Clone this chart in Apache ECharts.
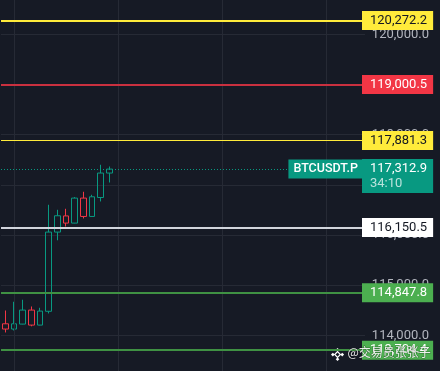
<!DOCTYPE html>
<html><head><meta charset="utf-8">
<script src="https://cdn.jsdelivr.net/npm/echarts@6/dist/echarts.min.js"></script>
<style>html,body{margin:0;padding:0;background:#161a25;}#c{width:440px;height:371px;}</style>
</head><body><div id="c"></div>
<script>
// ---- data ----
const slotCount = 42;
const categories = Array.from({length: slotCount}, (_, i) => String(i + 1));
const opens  = [114230, 114125, 114224, 114503, 114204, 114479, 116058, 116380, 116237, 116735, 116369, 116747, 117234];
const closes = [114125, 114230, 114503, 114204, 114483, 116058, 116383, 116237, 116735, 116369, 116761, 117234, 117312.9];
const lows   = [114057, 114097, 114220, 114180, 114200, 114436, 115894, 116169, 116233, 116329, 116365, 116668, 117046];
const highs  = [114495, 114669, 114709, 114575, 114549, 116602, 116502, 116522, 116755, 116861, 116801, 117399, 117365];
const levelPrices = [120272.2, 119000.5, 117881.3, 116150.5, 114847.8, 113704.4];
const levelLabels = ['120,272.2', '119,000.5', '117,881.3', '116,150.5', '114,847.8', '113,704.4'];
const vGridSlots = ['2', '14', '26', '38'];
const symbolName = 'BTCUSDT.P';
const lastPrice = 117312.9;
const lastPriceLabel = '117,312.9';
const countdown = '34:10';
const watermark = '@交易员张张子';
const yMin = 113000, yMax = 121000, yStep = 1000;

// ---- styles ----
const BG = '#161a25', UP = '#089981', DOWN = '#f23645', GRID = '#262a35';
const FONT = 'Roboto';
const levelStyles = [
  {line: '#ffeb3b', width: 2, box: '#ffeb3b', text: '#131722'},
  {line: '#c9303f', width: 2, box: '#f23645', text: '#ffffff'},
  {line: '#ffeb3b', width: 1, box: '#ffeb3b', text: '#131722'},
  {line: '#d1d4dc', width: 2, box: '#ffffff', text: '#131722'},
  {line: '#3f9143', width: 2, box: '#4caf50', text: '#ffffff'},
  {line: '#3f9143', width: 2, box: '#4caf50', text: '#ffffff'}
];

const ohlc = opens.map((o, i) => [o, closes[i], lows[i], highs[i]]);

const levelLines = levelPrices.map((p, i) => ({
  yAxis: p,
  lineStyle: {color: levelStyles[i].line, width: levelStyles[i].width, type: 'solid', opacity: 1},
  label: {
    show: true, position: 'end', distance: -3, formatter: levelLabels[i],
    backgroundColor: levelStyles[i].box, color: levelStyles[i].text,
    fontFamily: FONT, fontSize: 13, lineHeight: 15, padding: [2, 6, 2, 8]
  }
}));

const priceLines = [
  {
    yAxis: lastPrice,
    lineStyle: {color: UP, width: 1, type: [1, 2], opacity: 1},
    label: {
      show: true, position: 'insideEnd', distance: 3, formatter: symbolName,
      backgroundColor: UP, color: '#ffffff', fontFamily: FONT, fontSize: 12.5, fontWeight: 500,
      lineHeight: 15, padding: [2, 4, 2, 5]
    }
  },
  {
    yAxis: lastPrice,
    lineStyle: {color: 'rgba(0,0,0,0)', width: 1, type: 'solid', opacity: 1},
    label: {
      show: true, position: 'end', distance: -3, offset: [0, 7],
      formatter: '{p|' + lastPriceLabel + '}\n{t|' + countdown + '}',
      backgroundColor: UP, padding: [2, 6, 2, 8],
      rich: {
        p: {color: '#ffffff', fontFamily: FONT, fontSize: 13, lineHeight: 15},
        t: {color: 'rgba(255,255,255,0.72)', fontFamily: FONT, fontSize: 13, lineHeight: 15}
      }
    }
  }
];

const chart = echarts.init(document.getElementById('c'), null, {renderer: 'canvas'});
chart.setOption({
  backgroundColor: BG,
  animation: false,
  grid: {left: 1, top: -15.9, width: 364, height: 401.4, containLabel: false, outerBoundsMode: 'none'},
  xAxis: {
    type: 'category', data: categories, boundaryGap: true,
    axisLine: {show: false}, axisTick: {show: false}, axisLabel: {show: false}, splitLine: {show: false}
  },
  yAxis: {
    type: 'value', position: 'right', min: yMin, max: yMax, interval: yStep, scale: true,
    axisLine: {show: false}, axisTick: {show: false},
    splitLine: {show: true, lineStyle: {color: GRID, width: 1}},
    axisLabel: {
      show: true, align: 'right', margin: 64, color: '#b2b5be', fontFamily: FONT, fontSize: 13,
      formatter: v => v.toLocaleString('en-US', {minimumFractionDigits: 1, maximumFractionDigits: 1})
    }
  },
  series: [
    {
      type: 'line', data: [], z: 1, silent: true,
      markLine: {
        symbol: 'none', silent: true, animation: false,
        label: {show: false},
        lineStyle: {color: GRID, width: 1, type: 'solid'},
        data: vGridSlots.map(s => ({xAxis: s}))
      }
    },
    {
      type: 'candlestick', data: ohlc, barWidth: 6, z: 2,
      itemStyle: {color: 'transparent', color0: 'transparent', borderColor: UP, borderColor0: DOWN, borderWidth: 1},
      markLine: {
        symbol: 'none', silent: true, animation: false,
        data: levelLines.concat(priceLines)
      }
    }
  ],
  graphic: [
    {
      type: 'group', left: 331, top: 348, z: 100,
      children: [
        {type: 'rect', shape: {x: -2, y: -2, width: 4, height: 4}, x: 6, y: 6, rotation: Math.PI / 4, style: {fill: 'none', stroke: '#ffffff', lineWidth: 1.2}},
        {type: 'rect', shape: {x: -1.3, y: -1.3, width: 2.6, height: 2.6}, x: 6, y: 1.3, rotation: Math.PI / 4, style: {fill: '#ffffff'}},
        {type: 'rect', shape: {x: -1.3, y: -1.3, width: 2.6, height: 2.6}, x: 6, y: 10.7, rotation: Math.PI / 4, style: {fill: '#ffffff'}},
        {type: 'rect', shape: {x: -1.3, y: -1.3, width: 2.6, height: 2.6}, x: 1.3, y: 6, rotation: Math.PI / 4, style: {fill: '#ffffff'}},
        {type: 'rect', shape: {x: -1.3, y: -1.3, width: 2.6, height: 2.6}, x: 10.7, y: 6, rotation: Math.PI / 4, style: {fill: '#ffffff'}}
      ]
    },
    {
      type: 'text', left: 347, top: 346, z: 100,
      style: {text: watermark, fill: 'rgba(255,255,255,0.9)', font: '12px "Noto Sans CJK SC", sans-serif',
        stroke: 'rgba(0,0,0,0.35)', lineWidth: 1}
    }
  ]
});
</script>
</body></html>
